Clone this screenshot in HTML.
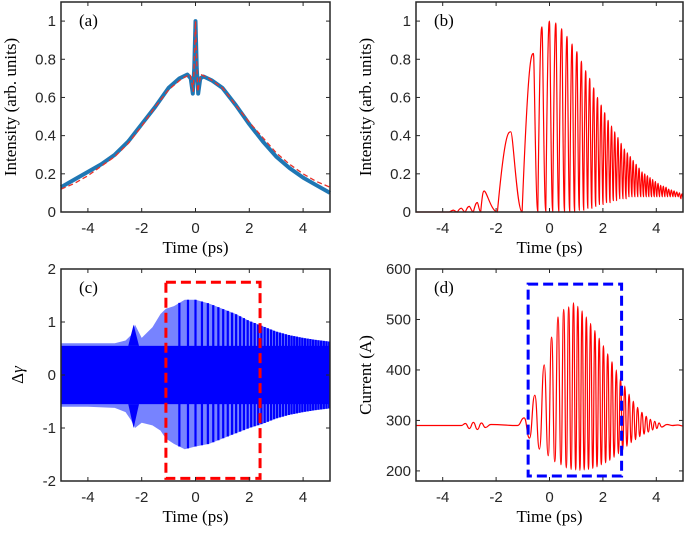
<!DOCTYPE html>
<html><head><meta charset="utf-8">
<style>
body{margin:0;background:#fff;width:685px;height:529px;overflow:hidden}
svg text{font-family:"Liberation Sans",sans-serif;font-size:15px;fill:#262626}
.tt{font-family:"Liberation Serif",serif;font-size:17px;fill:#000}
</style></head><body>
<svg id="fig" width="685" height="529" viewBox="0 0 685 529" xmlns="http://www.w3.org/2000/svg"></svg>
<script>
// ---- data ----
const xTicks=[-4,-2,0,2,4];
const xTickLabels=["-4","-2","0","2","4"];
const yTicksA=[0,0.2,0.4,0.6,0.8,1];
const yTickLabelsA=["0","0.2","0.4","0.6","0.8","1"];
const yTicksC=[-2,-1,0,1,2];
const yTickLabelsC=["-2","-1","0","1","2"];
const yTicksD=[200,300,400,500,600];
const yTickLabelsD=["200","300","400","500","600"];
const aMeasT=[-5,-4.5,-4,-3.5,-3,-2.5,-2,-1.5,-1,-0.6,-0.3,-0.18,-0.1,-0.05,0,0.05,0.1,0.18,0.3,0.6,1,1.5,2,2.5,3,3.5,4,4.5,5];
const aMeasV=[0.13,0.17,0.21,0.25,0.3,0.37,0.46,0.55,0.65,0.7,0.72,0.7,0.62,0.75,1.0,0.75,0.62,0.7,0.71,0.69,0.65,0.56,0.46,0.37,0.29,0.23,0.18,0.14,0.1];
const aFitT=[-5,-4.5,-4,-3.5,-3,-2.5,-2,-1.5,-1,-0.5,-0.2,-0.08,0,0.08,0.2,0.5,1,1.5,2,2.5,3,3.5,4,4.5,5];
const aFitV=[0.12,0.15,0.19,0.24,0.29,0.36,0.45,0.55,0.64,0.7,0.72,0.63,1.0,0.63,0.72,0.7,0.65,0.56,0.47,0.39,0.31,0.25,0.2,0.16,0.13];
const bPeakT=[-3.6,-3.3,-3.0,-2.7,-2.45,-1.45,-0.6,-0.28,0,0.24,0.46,0.66,0.85,1.03,1.2,1.36,1.51,1.66,1.8,1.94,2.07,2.2,2.33,2.45,2.57,2.69,2.81,2.92,3.03,3.14,3.25,3.36,3.47,3.57,3.67,3.77,3.87,3.97,4.07,4.17,4.27,4.37,4.47,4.57,4.67,4.77,4.87,4.97];
const bPeakV=[0.01,0.02,0.03,0.05,0.11,0.42,0.83,0.97,1.0,0.99,0.96,0.92,0.88,0.84,0.79,0.74,0.7,0.65,0.6,0.56,0.52,0.48,0.45,0.42,0.39,0.36,0.33,0.31,0.29,0.27,0.25,0.23,0.21,0.2,0.19,0.18,0.17,0.16,0.15,0.14,0.135,0.13,0.12,0.115,0.11,0.105,0.1,0.095];
const bTroughV=[0,0,0,0,0,0,0,0,0,0,0,0,0,0.01,0.01,0.02,0.02,0.03,0.04,0.04,0.05,0.05,0.06,0.06,0.07,0.07,0.07,0.08,0.08,0.08,0.08,0.08,0.08,0.08,0.08,0.08,0.08,0.08,0.08,0.08,0.08,0.08,0.08,0.08,0.08,0.08,0.07];
const cEnvT=[-5,-4,-3,-2.6,-2.4,-2.25,-2,-1.6,-1.3,-1.1,-0.8,-0.4,0,0.5,1,1.5,2,2.5,3,3.5,4,4.5,5];
const cTopV=[0.6,0.6,0.6,0.65,0.75,0.95,0.7,0.9,1.15,1.25,1.3,1.42,1.42,1.35,1.25,1.15,1.02,0.92,0.82,0.75,0.7,0.66,0.63];
const cBotV=[-0.6,-0.6,-0.62,-0.7,-0.85,-1.0,-0.9,-0.95,-1.05,-1.2,-1.3,-1.4,-1.35,-1.3,-1.2,-1.1,-1.0,-0.92,-0.82,-0.75,-0.7,-0.66,-0.63];
const cCoreV=0.55;
const dT=[-5,-3.3,-3.15,-3.0,-2.85,-2.7,-2.55,-2.4,-2.2,-1.2,-0.95,-0.75,-0.55,-0.38,-0.2,-0.05,0.08,0.2,0.32,0.43,0.53,0.63,0.72,0.81,0.9,0.98,1.06,1.14,1.22,1.3,1.38,1.46,1.54,1.62,1.7,1.78,1.86,1.94,2.02,2.1,2.18,2.26,2.34,2.42,2.5,2.58,2.66,2.74,2.82,2.9,2.98,3.06,3.14,3.22,3.3,3.38,3.46,3.54,3.62,3.7,3.78,3.86,3.94,4.02,4.1,4.2,4.4,4.6,4.8,5];
const dV=[290,290,294,284,296,282,295,286,292,290,305,265,350,243,410,230,465,218,505,212,520,206,525,203,533,202,526,201,517,202,505,203,492,205,478,208,463,212,448,216,432,221,416,227,400,234,384,241,368,249,352,256,338,262,326,268,316,273,308,277,302,281,298,284,295,287,292,290,291,289];

const svg=document.getElementById('fig');
const NS='http://www.w3.org/2000/svg';
function el(tag,attrs,parent){const e=document.createElementNS(NS,tag);for(const k in attrs)e.setAttribute(k,attrs[k]);(parent||svg).appendChild(e);return e;}
function mk(x0,x1,y0,y1,xmin,xmax,ymin,ymax){return{X:v=>x0+(v-xmin)/(xmax-xmin)*(x1-x0),Y:v=>y1-(v-ymin)/(ymax-ymin)*(y1-y0),x0,x1,y0,y1};}
const A=mk(61,330,2,212,-5,5,0,1.1);
const B=mk(416,683,2,212,-5,5,0,1.1);
const C=mk(61,330,269,481,-5,5,-2,2);
const D=mk(416,683,269,481,-5,5,180,600);

function axes(P,name,yt,ytl,ytitle,letter,italic){
  const g=el('g',{});
  
  
  xTicks.forEach((t,i)=>{
    const x=P.X(t);
    el('line',{x1:x,x2:x,y1:P.y1,y2:P.y1-4,stroke:'#262626'},g);
    el('line',{x1:x,x2:x,y1:P.y0,y2:P.y0+4,stroke:'#262626'},g);
    const tx=el('text',{x:x,y:P.y1+21,'text-anchor':'middle'},g);tx.textContent=xTickLabels[i];
    
    
  });
  yt.forEach((t,i)=>{
    const y=P.Y(t);
    el('line',{x1:P.x0,x2:P.x0+4,y1:y,y2:y,stroke:'#262626'},g);
    el('line',{x1:P.x1,x2:P.x1-4,y1:y,y2:y,stroke:'#262626'},g);
    const tx=el('text',{x:P.x0-5,y:y+5,'text-anchor':'end'},g);tx.textContent=ytl[i];
    
    
  });
  el('rect',{x:P.x0,y:P.y0,width:P.x1-P.x0,height:P.y1-P.y0,fill:'none',stroke:'#262626','stroke-width':1.5},g);
  const xt=el('text',{x:(P.x0+P.x1)/2,y:P.y1+41,'text-anchor':'middle',class:'tt'},g);xt.textContent='Time (ps)';
  
  
  const cy=(P.y0+P.y1)/2, cx=P.x0-(ytitle.length>5?45:38);
  const yl=el('text',{x:cx,y:cy,'text-anchor':'middle',class:'tt',transform:`rotate(-90 ${cx} ${cy})`},g);
  if(italic){yl.innerHTML='Δ<tspan font-style="italic">γ</tspan>';}else yl.textContent=ytitle;
  
  
  const lt=el('text',{x:P.x0+18,y:P.y0+24,class:'tt'},g);lt.textContent=letter;
  
  
}
function poly(P,T,V){return T.map((t,i)=>(i?'L':'M')+P.X(t).toFixed(1)+','+P.Y(V[i]).toFixed(1)).join('');}

// Panel a
const pa=el('path',{d:poly(A,aMeasT,aMeasV),fill:'none',stroke:'#1f77b4','stroke-width':4,'stroke-linejoin':'round'});


const pf=el('path',{d:poly(A,aFitT,aFitV),fill:'none',stroke:'#e8322a','stroke-width':1.3,'stroke-dasharray':'5,3'});


axes(A,'panel-a',yTicksA,yTickLabelsA,'Intensity (arb. units)','(a)');

// Panel b
{
  let d='M'+B.X(-5)+','+B.Y(0)+'L'+B.X(-3.75)+','+B.Y(0);
  for(let i=0;i<bPeakT.length;i++){
    const t=bPeakT[i];
    const prev=i?bPeakT[i-1]:-3.75;
    const next=i<bPeakT.length-1?bPeakT[i+1]:5.05;
    const hl=(t-prev)/2, hr=(next-t)/2;
    d+='C'+B.X(t-hl*0.45).toFixed(1)+','+B.Y(bPeakV[i]).toFixed(1)+' '+B.X(t-hl*0.2).toFixed(1)+','+B.Y(bPeakV[i]).toFixed(1)+' '+B.X(t).toFixed(1)+','+B.Y(bPeakV[i]).toFixed(1);
    const tr=i<bTroughV.length?bTroughV[i]:0.07;
    d+='C'+B.X(t+hr*0.2).toFixed(1)+','+B.Y(bPeakV[i]).toFixed(1)+' '+B.X(t+hr*0.55).toFixed(1)+','+B.Y(tr).toFixed(1)+' '+B.X(t+hr).toFixed(1)+','+B.Y(tr).toFixed(1);
  }
  const pb=el('path',{d:d,fill:'none',stroke:'#ff0000','stroke-width':1.2});
  
  
  axes(B,'panel-b',yTicksA,yTickLabelsA,'Intensity (arb. units)','(b)');
}

// Panel c
{
  const g=el('g',{});
  
  
  let top=cEnvT.map((t,i)=>(i?'L':'M')+C.X(t)+','+C.Y(cTopV[i])).join('');
  let bot=cEnvT.slice().reverse().map((t,i)=>'L'+C.X(t)+','+C.Y(cBotV[cEnvT.length-1-i])).join('');
  el('path',{d:top+bot+'Z',fill:'#4a5aff',opacity:0.75},g);
  for(let i=0;i<bPeakT.length;i++){
    const t=bPeakT[i]; if(t<-1.3) continue;
    let k=0; while(k<cEnvT.length-2&&cEnvT[k+1]<t)k++;
    const f=(t-cEnvT[k])/(cEnvT[k+1]-cEnvT[k]);
    const tv=cTopV[k]+(cTopV[k+1]-cTopV[k])*f, bv=cBotV[k]+(cBotV[k+1]-cBotV[k])*f;
    el('line',{x1:C.X(t),x2:C.X(t),y1:C.Y(tv),y2:C.Y(bv),stroke:'#0000ff','stroke-width':2.2},g);
  }
  el('rect',{x:C.X(-5),y:C.Y(cCoreV),width:C.X(5)-C.X(-5),height:C.Y(-cCoreV)-C.Y(cCoreV),fill:'#0000ff'},g);
  el('path',{d:'M'+C.X(-2.5)+','+C.Y(0.55)+'L'+C.X(-2.3)+','+C.Y(0.95)+'L'+C.X(-2.1)+','+C.Y(0.55)+'Z M'+C.X(-2.5)+','+C.Y(-0.55)+'L'+C.X(-2.3)+','+C.Y(-1.0)+'L'+C.X(-2.1)+','+C.Y(-0.55)+'Z',fill:'#0000ff'},g);
  const rb=el('rect',{x:C.X(-1.1),y:C.Y(1.75),width:C.X(2.4)-C.X(-1.1),height:C.Y(-1.95)-C.Y(1.75),fill:'none',stroke:'#ff0000','stroke-width':3,'stroke-dasharray':'10,5'});
  
  
  axes(C,'panel-c',yTicksC,yTickLabelsC,'Δγ','(c)',true);
}

// Panel d
{
  let d='M'+D.X(dT[0])+','+D.Y(dV[0]);
  for(let i=1;i<dT.length;i++){
    const xm=(D.X(dT[i-1])+D.X(dT[i]))/2;
    d+='C'+xm.toFixed(1)+','+D.Y(dV[i-1]).toFixed(1)+' '+xm.toFixed(1)+','+D.Y(dV[i]).toFixed(1)+' '+D.X(dT[i]).toFixed(1)+','+D.Y(dV[i]).toFixed(1);
  }
  const pd=el('path',{d:d,fill:'none',stroke:'#ff0000','stroke-width':1.2});
  
  
  const bb=el('rect',{x:D.X(-0.8),y:D.Y(570),width:D.X(2.7)-D.X(-0.8),height:D.Y(190)-D.Y(570),fill:'none',stroke:'#0000ff','stroke-width':3,'stroke-dasharray':'10,5'});
  
  
  axes(D,'panel-d',yTicksD,yTickLabelsD,'Current (A)','(d)');
}
</script>
</body></html>
